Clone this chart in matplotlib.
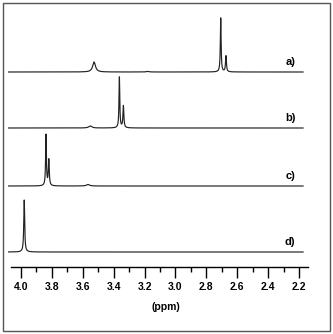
import numpy as np
import matplotlib.pyplot as plt
from matplotlib.patches import Rectangle
from matplotlib.ticker import MultipleLocator

# --- peak lists per spectrum: centre (ppm), height, half width (ppm)
labels = ['a)', 'b)', 'c)', 'd)']
offsets = [195, 139, 81, 15]

pos_a = [2.707, 2.673, 3.527, 3.18]
amp_a = [54, 16, 10, 0.6]
hw_a  = [0.003, 0.0035, 0.011, 0.01]

pos_b = [3.363, 3.337, 3.552]
amp_b = [51, 22, 2.0]
hw_b  = [0.003, 0.0035, 0.012]

pos_c = [3.838, 3.820, 3.566]
amp_c = [51, 26, 1.5]
hw_c  = [0.003, 0.0035, 0.012]

pos_d = [3.979]
amp_d = [52]
hw_d  = [0.0035]

peaks = [(pos_a, amp_a, hw_a), (pos_b, amp_b, hw_b),
         (pos_c, amp_c, hw_c), (pos_d, amp_d, hw_d)]

W, H = 333, 334
fig = plt.figure(figsize=(W/100, H/100), dpi=100)
plt.rcParams['font.family'] = ['Liberation Sans', 'DejaVu Sans']

# outer frame
fig.patches.append(Rectangle((3/W, 3/H), 327/W, 328/H, transform=fig.transFigure,
                             fill=False, ec='#555555', lw=1.0))

ax = fig.add_axes([8/W, (H-267)/H, 300/W, 257/H])
x_left, x_right = 4.084, 2.142
ax.set_xlim(x_left, x_right)
ax.set_ylim(0, 257)

ppm = np.linspace(x_left, 2.174, 4000)

def lineshape(pos, amp, hw):
    y = np.zeros_like(ppm)
    for p, a, w in zip(pos, amp, hw):
        y += a * w**2 / ((ppm - p)**2 + w**2)
    return y

for lab, off, (pos, amp, hw) in zip(labels, offsets, peaks):
    ax.plot(ppm, off + lineshape(pos, amp, hw), color='#222222', lw=0.85)
    ax.text(2.258, off + 10, lab, ha='center', va='center',
            fontsize=8, fontweight='bold')

for s in ['top', 'left', 'right']:
    ax.spines[s].set_visible(False)
ax.spines['bottom'].set_bounds(4.065, 2.142)
ax.spines['bottom'].set_linewidth(1.0)
ax.set_yticks([])
ax.xaxis.set_minor_locator(MultipleLocator(0.1))
ax.set_xticks(np.arange(2.2, 4.01, 0.2))
ax.tick_params(axis='x', which='major', direction='out', length=8, width=1.0,
               labelsize=7.5, pad=3)
ax.tick_params(axis='x', which='minor', direction='out', length=3.6, width=1.0)
ax.set_xticklabels([f'{v:.1f}' for v in np.arange(2.2, 4.01, 0.2)], fontweight='bold')
ax.patch.set_visible(False)

fig.text(166/W, 1 - 307/H, '(ppm)', ha='center', va='center',
         fontsize=7.5, fontweight='bold')

fig.savefig('out.png', dpi=100)
